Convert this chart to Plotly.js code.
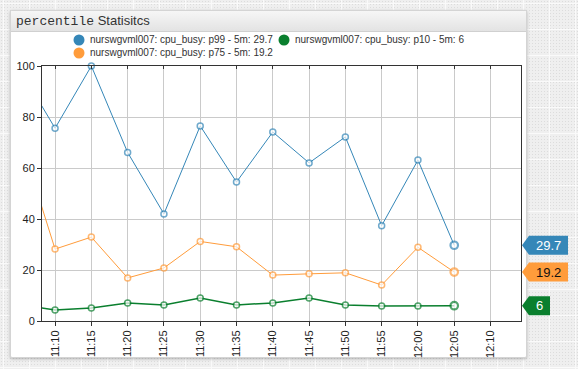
<!DOCTYPE html>
<html>
<head>
<meta charset="utf-8">
<script src="https://cdn.plot.ly/plotly-3.0.1.min.js"></script>
<style>
  html, body { margin: 0; padding: 0; width: 578px; height: 369px; overflow: hidden; }
  body {
    background-color: #efefef;
    background-image:
      linear-gradient(to right, #fafafa 1px, transparent 1px),
      linear-gradient(to bottom, #fafafa 1px, transparent 1px),
      radial-gradient(#dcdcdc 0.6px, transparent 0.7px);
    background-size: 26px 26px, 26px 26px, 3px 3px;
    background-position: 3px 3px, 3px 3px, 0 0;
    font-family: "Liberation Sans", Arial, sans-serif;
  }
  #panel {
    position: absolute; left: 10px; top: 10px; width: 515px; height: 346px;
    background: #ffffff; border: 1px solid #d4d4d4;
    box-shadow: 0 1px 3px rgba(0,0,0,0.25); border-radius: 2px;
  }
  #header {
    position: absolute; left: 0; top: 0; right: 0; height: 20px;
    background: linear-gradient(to bottom, #f6f6f6, #e3e3e3);
    border-bottom: 1px solid #d0d0d0;
  }
  #chart { position: absolute; left: 0; top: 0; width: 578px; height: 369px; }
</style>
</head>
<body>
<div id="panel"><div id="header"></div></div>
<div id="chart"></div>
<script>
// ---- data ----
const times = ["11:05","11:10","11:15","11:20","11:25","11:30","11:35","11:40","11:45","11:50","11:55","12:00","12:05"];
const p99 = [99.5, 75.6, 100, 66.1, 42.0, 76.5, 54.5, 74.1, 62.0, 72.2, 37.4, 63.1, 29.7];
const p75 = [73.5, 28.2, 32.9, 16.9, 20.8, 31.2, 29.1, 18.0, 18.5, 18.9, 14.1, 28.9, 19.2];
const p10 = [6.5, 4.3, 5.1, 7.1, 6.3, 9.0, 6.3, 7.1, 9.0, 6.3, 5.9, 5.9, 6];
const seriesNames = ["nurswgvml007: cpu_busy: p99 - 5m", "nurswgvml007: cpu_busy: p75 - 5m", "nurswgvml007: cpu_busy: p10 - 5m"];
const seriesColors = ["#3587b8", "#ff9c3b", "#0a7f2e"];
const lastLabels = ["29.7", "19.2", "6"];
const tagTextColors = ["#ffffff", "#111111", "#ffffff"];

const day = "2018-06-01 ";
const x = times.map(t => day + t + ":00");
const n = x.length;
const values = [p99, p75, p10];
const lineWidths = [1, 1, 1.5];

const traces = [];
values.forEach((v, i) => {
  traces.push({
    x: x, y: v, type: "scatter", mode: "lines",
    name: seriesNames[i], showlegend: false, hoverinfo: "skip",
    line: { color: seriesColors[i], width: lineWidths[i] }
  });
});
values.forEach((v, i) => {
  traces.push({
    x: x, y: v, type: "scatter", mode: "markers", cliponaxis: false,
    name: seriesNames[i], showlegend: false, hoverinfo: "skip",
    marker: {
      symbol: "circle", color: "#ffffff",
      size: x.map((_, k) => k === n - 1 ? 7.5 : 6),
      line: { color: seriesColors[i], width: x.map((_, k) => k === n - 1 ? 2.2 : 1.5) }
    }
  });
});
// dummy trace for top axis
traces.push({ x: [], y: [], xaxis: "x2", yaxis: "y", type: "scatter", mode: "markers", showlegend: false, hoverinfo: "skip" });

// plot area geometry (pixels)
const L = 42, R = 57, T = 66, B = 48, W = 578, H = 369;
const pw = W - L - R, ph = H - T - B;
const px2paperX = p => (p - L) / pw;
const px2paperY = p => (H - B - p) / ph;

// custom legend (order as in reference: p99, p10 on row 1; p75 on row 2)
const legendPos = [ [79, 40], [79, 53], [284, 40] ];
const shapes = [];
const annotations = [];
values.forEach((v, i) => {
  const [cx, cy] = legendPos[i];
  shapes.push({
    type: "circle", xref: "paper", yref: "paper",
    xsizemode: "pixel", ysizemode: "pixel",
    xanchor: px2paperX(cx), yanchor: px2paperY(cy),
    x0: -5.5, x1: 5.5, y0: -5.5, y1: 5.5,
    fillcolor: seriesColors[i], line: { width: 0 }
  });
  annotations.push({
    xref: "paper", yref: "paper", x: px2paperX(cx + 9), y: px2paperY(cy),
    xanchor: "left", yanchor: "middle", showarrow: false,
    text: seriesNames[i] + ": " + lastLabels[i],
    font: { family: "Liberation Sans, Arial, sans-serif", size: 10, color: "#333333" }
  });
  // value tags at right
  const last = v[v.length - 1];
  const label = lastLabels[i];
  const tw = label.split("").reduce((s, c) => s + (c === "." ? 3.6 : 7.2), 0);
  const bodyW = Math.round(tw + 14);
  shapes.push({
    type: "path", xref: "paper", yref: "y",
    xsizemode: "pixel", ysizemode: "pixel",
    xanchor: 1, yanchor: last,
    path: `M1,0 L8,9.5 L${8 + bodyW},9.5 L${8 + bodyW},-9.5 L8,-9.5 Z`,
    fillcolor: seriesColors[i], line: { width: 0 }
  });
  annotations.push({
    xref: "paper", yref: "y", x: 1, y: last, xanchor: "center", yanchor: "middle",
    xshift: 8 + bodyW / 2, showarrow: false, text: label,
    font: { family: "Liberation Sans, Arial, sans-serif", size: 13, color: tagTextColors[i] }
  });
});

const axisFont = { family: "Liberation Sans, Arial, sans-serif", size: 11, color: "#222222" };
const layout = {
  width: W, height: H,
  margin: { l: L, r: R, t: T, b: B, pad: 0 },
  paper_bgcolor: "rgba(0,0,0,0)", plot_bgcolor: "#ffffff",
  showlegend: false,
  title: {
    text: '<span style="font-family:Liberation Mono, DejaVu Sans Mono, monospace">percentile</span> Statisitcs',
    x: 16 / W, xanchor: "left", y: 1 - 20.5 / H, yanchor: "middle",
    font: { family: "Liberation Sans, Arial, sans-serif", size: 13, color: "#333333" }
  },
  xaxis: {
    type: "date", range: [day + "11:08:12", day + "12:14:12"],
    tick0: day + "11:10:00", dtick: 300000, tickformat: "%H:%M",
    tickangle: -90, tickfont: axisFont,
    ticks: "outside", ticklen: 4, tickcolor: "#333333",
    showline: true, linecolor: "#333333", linewidth: 1, mirror: true,
    showgrid: true, gridcolor: "#cacaca", gridwidth: 1, zeroline: false
  },
  xaxis2: {
    type: "date", overlaying: "x", matches: "x", side: "top",
    tick0: day + "11:10:00", dtick: 300000,
    ticks: "inside", ticklen: 3, tickcolor: "#333333",
    showticklabels: false, showgrid: false, showline: false, zeroline: false
  },
  yaxis: {
    range: [0, 100], dtick: 20, tickfont: axisFont,
    ticks: "outside", ticklen: 4, tickcolor: "#333333",
    showline: true, linecolor: "#333333", linewidth: 1, mirror: true,
    showgrid: true, gridcolor: "#cacaca", gridwidth: 1, zeroline: false
  },
  shapes: shapes,
  annotations: annotations
};

Plotly.newPlot("chart", traces, layout, { staticPlot: true, displayModeBar: false });
</script>
</body>
</html>
